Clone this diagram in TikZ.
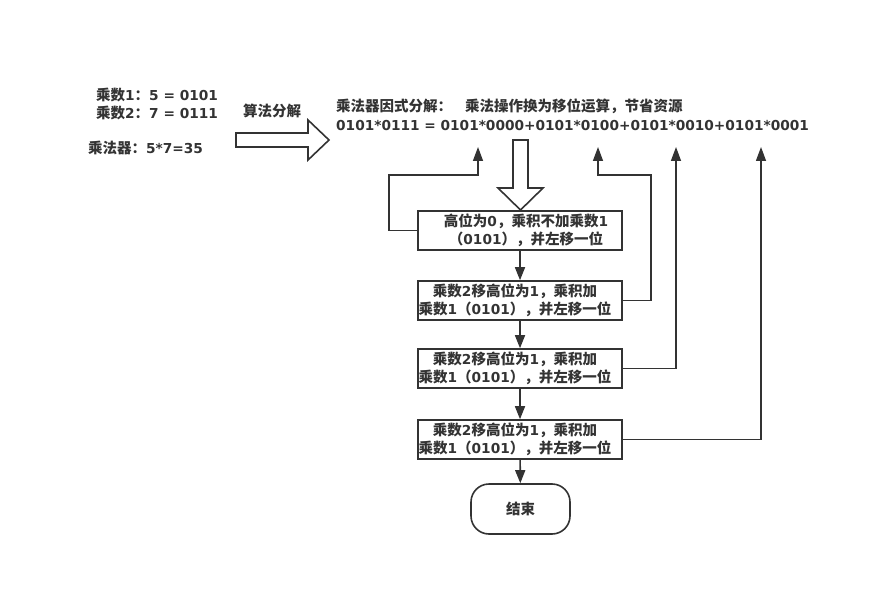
\documentclass[tikz,border=0pt]{standalone}
\usepackage{fontspec}
\setmainfont{Noto Sans CJK SC}
\newfontfamily\latfont{DejaVu Sans}
\newcommand\lat[1]{{\latfont\fontsize{13.7}{17}\selectfont #1}}
\usetikzlibrary{arrows.meta}
\definecolor{ink}{HTML}{333333}
\tikzset{
  txt/.style={font=\bfseries\fontsize{14.5}{18}\selectfont, text=ink, inner sep=0pt},
  stepbox/.style={draw=ink, line width=1.6pt, minimum width=204pt, minimum height=39pt, inner sep=0pt, align=center, txt},
  endbox/.style={draw=ink, line width=1.6pt, rounded corners=18pt, minimum width=99pt, minimum height=50pt, txt},
  conn/.style={draw=ink, line width=1.6pt, -{Triangle[length=13pt,width=10pt]}},
  fb/.style={draw=ink, line width=1.4pt, -{Triangle[length=14pt,width=10pt]}},
  blk/.style={draw=ink, line width=1.6pt, fill=white, line join=miter}
}
\begin{document}
\begin{tikzpicture}[x=1pt,y=-1pt]
\useasboundingbox (0,0) rectangle (883,596);
% left texts
\node[txt, anchor=west] (m1) at (96,95) {乘数\lat{1}：\lat{5 = 0101}};
\node[txt, anchor=west] (m2) at (96,113) {乘数\lat{2}：\lat{7 = 0111}};
\node[txt, anchor=west] (m3) at (88,148) {乘法器：\lat{5*7=35}};
\node[txt] (alg) at (272,111) {算法分解};
% right block arrow
\draw[blk] (236,133) -- (308,133) -- (308,120) -- (329,140) -- (308,160) -- (308,147) -- (236,147) -- cycle;
% title texts
\node[txt, anchor=west] (t1) at (336,106) {乘法器因式分解：\hspace{13pt}乘法操作换为移位运算，节省资源};
\node[txt, anchor=west] (t2) at (336,126) {\lat{0101*0111 = 0101*0000+0101*0100+0101*0010+0101*0001}};
% down block arrow
\draw[blk] (513,140) -- (528,140) -- (528,188) -- (543,188) -- (520.5,210) -- (498,188) -- (513,188) -- cycle;
% boxes
\node[stepbox] (b1) at (520,230.5) {\hspace*{12pt}高位为\lat{0}，乘积不加乘数\lat{1}\\\hspace*{12pt}（\lat{0101}），并左移一位};
\node[stepbox] (b2) at (520,300.5) {\hspace*{-10pt}乘数\lat{2}移高位为\lat{1}，乘积加\\\hspace*{-10pt}乘数\lat{1}（\lat{0101}），并左移一位};
\node[stepbox] (b3) at (520,368.5) {\hspace*{-10pt}乘数\lat{2}移高位为\lat{1}，乘积加\\\hspace*{-10pt}乘数\lat{1}（\lat{0101}），并左移一位};
\node[stepbox] (b4) at (520,439.5) {\hspace*{-10pt}乘数\lat{2}移高位为\lat{1}，乘积加\\\hspace*{-10pt}乘数\lat{1}（\lat{0101}），并左移一位};
\node[endbox] (e) at (520.5,509) {结束};
% vertical connectors
\draw[conn] (b1) -- (b2);
\draw[conn] (b2) -- (b3);
\draw[conn] (b3) -- (b4);
\draw[conn] (b4) -- (e);
% feedback targets
\coordinate (f1) at (478,147);
\coordinate (f2) at (598,147);
\coordinate (f3) at (676,147);
\coordinate (f4) at (761,147);
\draw[fb] (b1.west) -- (389,230.5) -- (389,175) -- (478,175) -- (f1);
\draw[fb] (b2.east) -- (651,300.5) -- (651,175) -- (598,175) -- (f2);
\draw[fb] (b3.east) -- (676,368.5) -- (f3);
\draw[fb] (b4.east) -- (761,439.5) -- (f4);
\end{tikzpicture}
\end{document}
